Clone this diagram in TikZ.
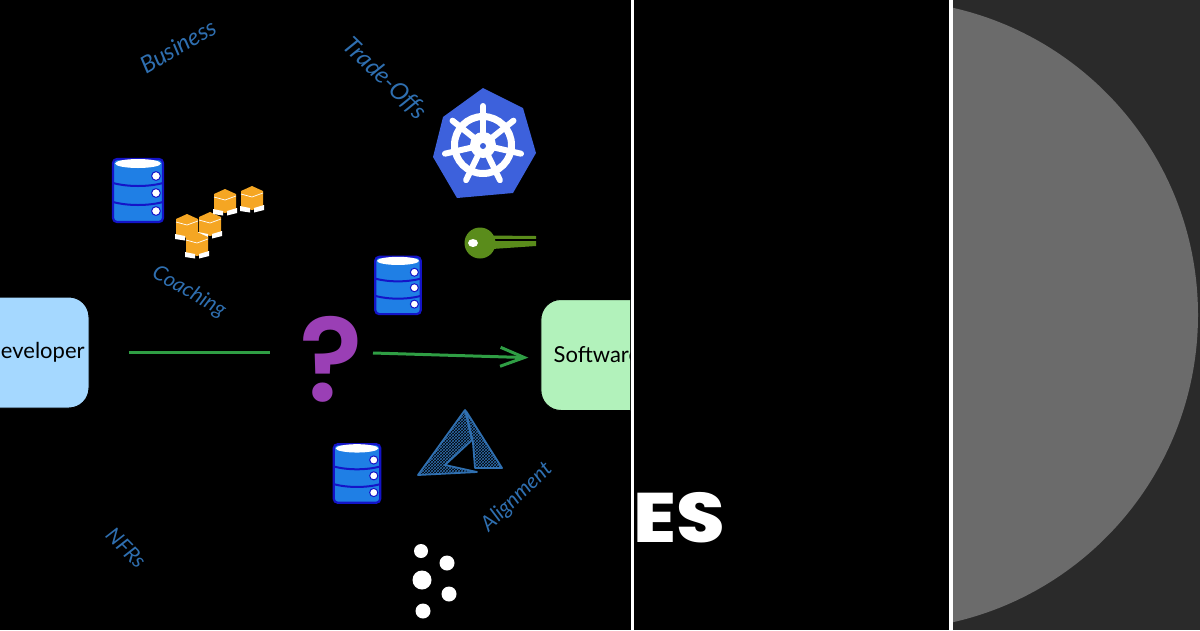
\documentclass[tikz,border=0pt]{standalone}
\usepackage{fontspec}
\usepackage{xcolor}
\usetikzlibrary{arrows.meta,calc,patterns,positioning}
\setmainfont{Lato}
\newfontfamily\headfont{Poppins SemiBold}
\newfontfamily\blackfont{Poppins ExtraBold}[FakeStretch=1.12]
\definecolor{labelblue}{HTML}{2F6FB0}
\definecolor{linkgreen}{HTML}{2F9E44}
\definecolor{devfill}{HTML}{A5D8FF}
\definecolor{softfill}{HTML}{B2F2BB}
\definecolor{dbfill}{HTML}{1F7FE5}
\definecolor{dbline}{HTML}{1414C8}
\definecolor{k8sblue}{HTML}{3D61DC}
\definecolor{keygreen}{HTML}{5A8C1B}
\definecolor{blockorange}{HTML}{F5A623}
\definecolor{qpurple}{HTML}{9A3FB5}
\definecolor{panelgrey}{HTML}{2A2A2A}
\definecolor{discgrey}{HTML}{6B6B6B}

\begin{document}
\begin{tikzpicture}[
  x=1pt, y=-1pt,
  >=Stealth,
  node distance=150pt and 150pt,
  box/.style={rounded corners=20pt, draw=black, line width=1pt, minimum height=111pt, text=black, font=\fontsize{22}{24}\selectfont},
  tag/.style={text=labelblue, inner sep=0pt, font=\fontsize{21}{24}\selectfont\itshape},
  link/.style={line width=3pt, draw=linkgreen},
  hatched/.style={draw=labelblue, line width=1.8pt, pattern=crosshatch, pattern color=labelblue, line join=round},
  dbicon/.pic={
    \draw[dbline, line width=2.2pt, fill=dbfill, rounded corners=4pt] (-25,-31) rectangle (25,32);
    \fill[white] (0,-26.5) ellipse [x radius=23, y radius=4.5];
    \draw[dbline, line width=2pt] (-25,-7) .. controls (-10,-3) and (10,-3) .. (25,-7);
    \draw[dbline, line width=2pt] (-25,12) .. controls (-10,16) and (10,16) .. (25,12);
    \foreach \yy in {-14,3,21} \draw[dbline, fill=white, line width=1pt] (18,\yy) circle (4.4);
  },
  blockicon/.pic={
    \fill[blockorange] (-11,-8) -- (0,-13) -- (11,-8) -- (11,8) -- (0,11) -- (-11,8) -- cycle;
    \draw[white, line width=.7pt] (-11,-5) -- (0,-2) -- (11,-6);
    \fill[white] (-12,7) -- (-2,9) -- (-2,13.5) -- (-12,12) -- cycle;
    \fill[white] (2,9) -- (12,6) -- (12,11) -- (2,13.5) -- cycle;
  }
]

\useasboundingbox (0,0) rectangle (1200,630);
\clip (0,0) rectangle (1200,630);
\fill[black] (0,0) rectangle (1200,630);

% ---- right panel ----
\begin{scope}
  \clip (952,0) rectangle (1200,630);
  \fill[panelgrey] (952,0) rectangle (1200,630);
  \fill[discgrey] (883,315) circle (315);
\end{scope}

\begin{scope}
\clip (0,0) rectangle (630,630);

% ---- main chain ----
\node (dev) [box, fill=devfill, minimum width=109pt] at (34.5,352.5) {Developer};
\node (qmark) [right=210pt of dev, yshift=-7pt, inner sep=0pt, text=qpurple, font=\fontsize{118}{118}\selectfont\headfont] {?};
\node (soft) [box, fill=softfill, minimum width=112pt, right=177pt of qmark, yshift=4.5pt] {Software};

% ---- edges ----
\draw[link, shorten <=39pt, shorten >=30pt] (dev.east) -- (dev.east -| qmark.west);
\coordinate (arrowstart) at (373,353);
\draw[link, -{Straight Barb[length=24pt,width=19pt]}, shorten >=12pt] (arrowstart) -- ([yshift=-3pt]soft.west);

% ---- labels ----
\node (business) [tag, rotate=30, font=\fontsize{23.5}{24}\selectfont\itshape] at (178,46) {Business};
\node (tradeoffs) [tag, rotate=-44, font=\fontsize{24}{24}\selectfont\itshape] at (385,79) {Trade-Offs};
\node (coaching) [tag, rotate=-30] at (189,292) {Coaching};
\node (alignment) [tag, rotate=44] at (517,497) {Alignment};
\node (nfrs) [tag, rotate=-45] at (126,548) {NFRs};

% ---- databases ----
\pic at (138,190) {dbicon};
\pic[scale=.91] at (398,285) {dbicon};
\pic[scale=.93] at (357,473) {dbicon};

% ---- blocks ----
\foreach \bx/\by in {187/227,210/225,225/202,252/199,197/245}
  \pic at (\bx,\by) {blockicon};

% ---- wheel ----
\fill[k8sblue] (483,88) -- (523,108) -- (536,153) -- (513,193) -- (457,198) -- (433,157) -- (443,117) -- cycle;
\draw[white, line width=7pt] (483,145) circle (28.5);
\fill[white] (483,145) circle (13);
\foreach \ang in {0,1,...,6}
  \draw[white, line width=6pt, line cap=round] (483,145) -- ++({39*cos(-90+\ang*360/7)},{39*sin(-90+\ang*360/7)});
\fill[k8sblue] (483,146) circle (3);

% ---- key ----
\fill[keygreen] (490,235.5) -- (536,236) -- (536,246) -- (492,249) -- cycle;
\fill[black] (492,238.5) -- (537,238.5) -- (537,240.8) -- (492,240.8) -- cycle;
\fill[keygreen] (480,243) circle (15.5);
\fill[white] (473,243) ellipse [x radius=5, y radius=4];

% ---- triangle ----
\draw[hatched] (465,410) -- (418,475) -- (477,472) -- (445,465) -- (472,440) -- cycle;
\draw[hatched] (466,411) -- (502,468) -- (475,468) -- (473,443) -- cycle;

% ---- dots ----
\foreach \dx/\dy/\dr in {421/551/7,447/563/7.5,422/580/9.5,449/594/7.5,423/611/7.5}
  \fill[white] (\dx,\dy) circle (\dr);
\end{scope}

% ---- dividers ----
\node (es) [anchor=west, inner sep=0pt, text=white, font=\fontsize{70}{70}\selectfont\blackfont] at (633,518) {ES};
\fill[white] (630.5,0) rectangle (634,630);
\fill[white] (949,0) rectangle (952.5,630);

\end{tikzpicture}
\end{document}
